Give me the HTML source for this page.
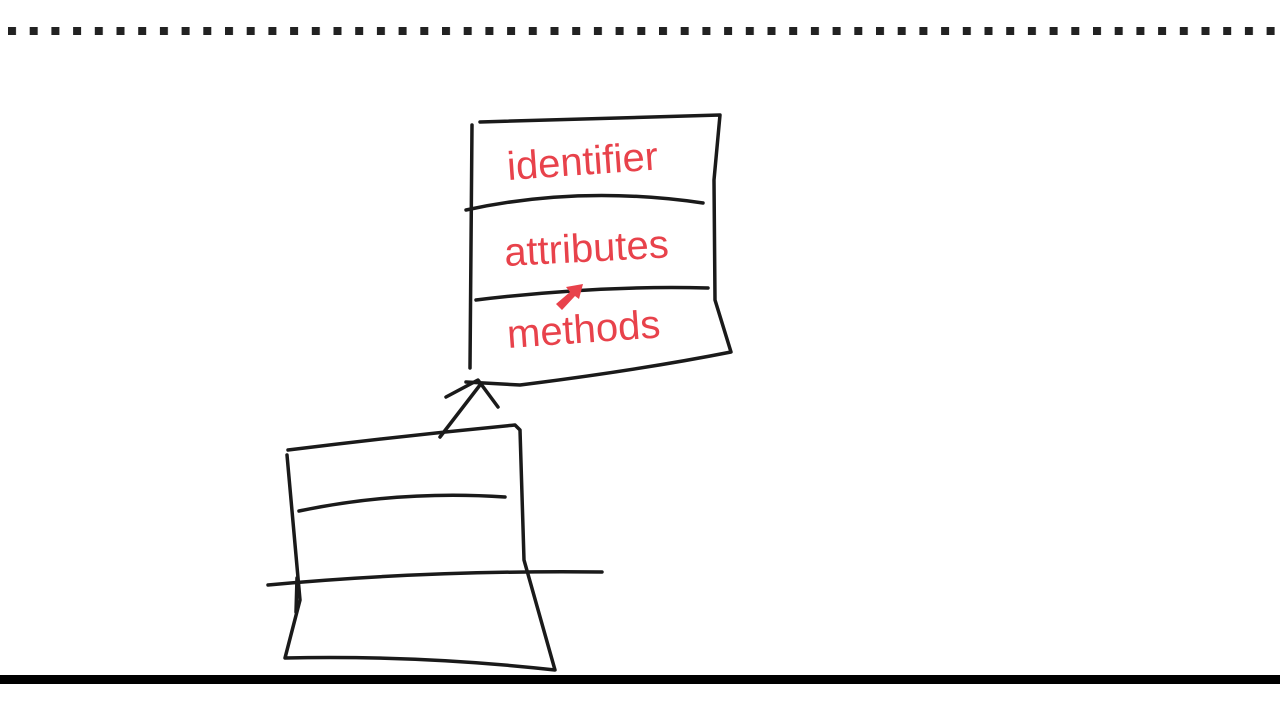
<!DOCTYPE html>
<html><head><style>
html,body{margin:0;padding:0;background:#fff;width:1280px;height:720px;overflow:hidden}
</style></head><body>
<svg width="1280" height="720" xmlns="http://www.w3.org/2000/svg">
<defs><pattern id="d" x="8" y="0" width="21.7" height="720" patternUnits="userSpaceOnUse"><rect x="0" y="27" width="8" height="8" fill="#222"/></pattern></defs>
<rect x="0" y="0" width="1280" height="40" fill="url(#d)"/>
<rect x="0" y="675" width="1280" height="9" fill="#000"/>
<g fill="none" stroke="#1a1a1a" stroke-width="3.5" stroke-linecap="round" stroke-linejoin="round">
<path d="M472 125 L470 368"/>
<path d="M480 122 Q600 118 720 115 L714 180 L715 300 L731 352 Q640 370 520 385 L466 382"/>
<path d="M466 210 Q580 185 703 203"/>
<path d="M476 300 Q600 285 708 288"/>
<path d="M446 397 L478 380 L498 407 M480 385 L440 437"/>
<path d="M288 450 Q400 436 515 425 L520 430 L524 560 L555 670 Q420 655 285 658 L300 600 L287 455"/>
<path d="M299 511 Q400 490 505 497"/>
<path d="M268 585 Q430 570 602 572"/>
<path d="M297 578 L296 612"/>
</g>
<g fill="#e8424b" font-family="'Liberation Sans',sans-serif" font-size="40">
<text x="508" y="180" transform="rotate(-4 508 180)">identifier</text>
<text x="505" y="266" transform="rotate(-3 505 266)">attributes</text>
<text x="508" y="348" transform="rotate(-4 508 348)">methods</text>
</g>
<path d="M556 304 L570 292 L566 287 L583 284 L579 299 L575 296 L562 310 Z" fill="#e8424b"/>
</svg>
</body></html>
